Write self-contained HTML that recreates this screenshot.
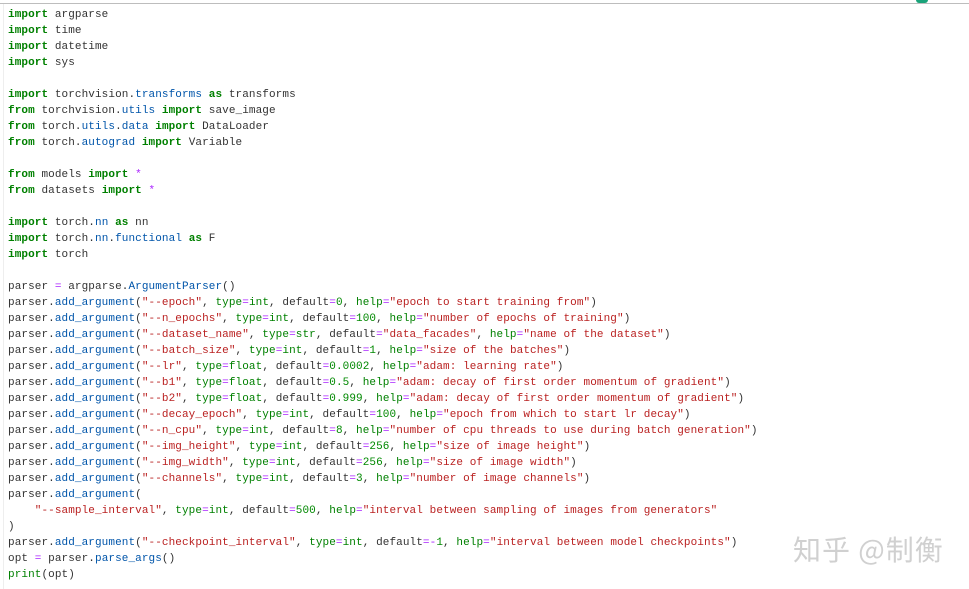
<!DOCTYPE html>
<html><head><meta charset="utf-8"><style>
body{margin:0;width:969px;height:589px;background:#fff;overflow:hidden;position:relative}
.top{position:absolute;left:0;top:3px;width:969px;height:1px;background:#bdbdbd}
.lft{position:absolute;left:3px;top:4px;width:1px;height:585px;background:#eee}
pre{position:absolute;left:8px;top:7px;margin:0;font-family:"Liberation Mono",monospace;font-size:11px;line-height:16px;color:#333;letter-spacing:0.09px}
.k{color:#008000;font-weight:bold}.b{color:#008000}.a{color:#0055aa}.s{color:#ba2121}.n{color:#008800}.o{color:#aa22ff}
.wm{position:absolute;left:793px;top:529px;font-family:"Noto Sans CJK SC",sans-serif;font-size:28px;color:#d0d0d0;letter-spacing:1px}
.g{position:absolute;left:916px;top:0;width:12px;height:3px;background:#1aa37a;border-radius:0 0 6px 6px}
</style></head><body>
<div class="top"></div><div class="lft"></div><div class="g"></div>
<pre><span class="k">import</span> argparse
<span class="k">import</span> time
<span class="k">import</span> datetime
<span class="k">import</span> sys

<span class="k">import</span> torchvision.<span class="a">transforms</span> <span class="k">as</span> transforms
<span class="k">from</span> torchvision.<span class="a">utils</span> <span class="k">import</span> save_image
<span class="k">from</span> torch.<span class="a">utils</span>.<span class="a">data</span> <span class="k">import</span> DataLoader
<span class="k">from</span> torch.<span class="a">autograd</span> <span class="k">import</span> Variable

<span class="k">from</span> models <span class="k">import</span> <span class="o">*</span>
<span class="k">from</span> datasets <span class="k">import</span> <span class="o">*</span>

<span class="k">import</span> torch.<span class="a">nn</span> <span class="k">as</span> nn
<span class="k">import</span> torch.<span class="a">nn</span>.<span class="a">functional</span> <span class="k">as</span> F
<span class="k">import</span> torch

parser <span class="o">=</span> argparse.<span class="a">ArgumentParser</span>()
parser.<span class="a">add_argument</span>(<span class="s">"--epoch"</span>, <span class="b">type</span><span class="o">=</span><span class="b">int</span>, default<span class="o">=</span><span class="n">0</span>, <span class="b">help</span><span class="o">=</span><span class="s">"epoch to start training from"</span>)
parser.<span class="a">add_argument</span>(<span class="s">"--n_epochs"</span>, <span class="b">type</span><span class="o">=</span><span class="b">int</span>, default<span class="o">=</span><span class="n">100</span>, <span class="b">help</span><span class="o">=</span><span class="s">"number of epochs of training"</span>)
parser.<span class="a">add_argument</span>(<span class="s">"--dataset_name"</span>, <span class="b">type</span><span class="o">=</span><span class="b">str</span>, default<span class="o">=</span><span class="s">"data_facades"</span>, <span class="b">help</span><span class="o">=</span><span class="s">"name of the dataset"</span>)
parser.<span class="a">add_argument</span>(<span class="s">"--batch_size"</span>, <span class="b">type</span><span class="o">=</span><span class="b">int</span>, default<span class="o">=</span><span class="n">1</span>, <span class="b">help</span><span class="o">=</span><span class="s">"size of the batches"</span>)
parser.<span class="a">add_argument</span>(<span class="s">"--lr"</span>, <span class="b">type</span><span class="o">=</span><span class="b">float</span>, default<span class="o">=</span><span class="n">0.0002</span>, <span class="b">help</span><span class="o">=</span><span class="s">"adam: learning rate"</span>)
parser.<span class="a">add_argument</span>(<span class="s">"--b1"</span>, <span class="b">type</span><span class="o">=</span><span class="b">float</span>, default<span class="o">=</span><span class="n">0.5</span>, <span class="b">help</span><span class="o">=</span><span class="s">"adam: decay of first order momentum of gradient"</span>)
parser.<span class="a">add_argument</span>(<span class="s">"--b2"</span>, <span class="b">type</span><span class="o">=</span><span class="b">float</span>, default<span class="o">=</span><span class="n">0.999</span>, <span class="b">help</span><span class="o">=</span><span class="s">"adam: decay of first order momentum of gradient"</span>)
parser.<span class="a">add_argument</span>(<span class="s">"--decay_epoch"</span>, <span class="b">type</span><span class="o">=</span><span class="b">int</span>, default<span class="o">=</span><span class="n">100</span>, <span class="b">help</span><span class="o">=</span><span class="s">"epoch from which to start lr decay"</span>)
parser.<span class="a">add_argument</span>(<span class="s">"--n_cpu"</span>, <span class="b">type</span><span class="o">=</span><span class="b">int</span>, default<span class="o">=</span><span class="n">8</span>, <span class="b">help</span><span class="o">=</span><span class="s">"number of cpu threads to use during batch generation"</span>)
parser.<span class="a">add_argument</span>(<span class="s">"--img_height"</span>, <span class="b">type</span><span class="o">=</span><span class="b">int</span>, default<span class="o">=</span><span class="n">256</span>, <span class="b">help</span><span class="o">=</span><span class="s">"size of image height"</span>)
parser.<span class="a">add_argument</span>(<span class="s">"--img_width"</span>, <span class="b">type</span><span class="o">=</span><span class="b">int</span>, default<span class="o">=</span><span class="n">256</span>, <span class="b">help</span><span class="o">=</span><span class="s">"size of image width"</span>)
parser.<span class="a">add_argument</span>(<span class="s">"--channels"</span>, <span class="b">type</span><span class="o">=</span><span class="b">int</span>, default<span class="o">=</span><span class="n">3</span>, <span class="b">help</span><span class="o">=</span><span class="s">"number of image channels"</span>)
parser.<span class="a">add_argument</span>(
    <span class="s">"--sample_interval"</span>, <span class="b">type</span><span class="o">=</span><span class="b">int</span>, default<span class="o">=</span><span class="n">500</span>, <span class="b">help</span><span class="o">=</span><span class="s">"interval between sampling of images from generators"</span>
)
parser.<span class="a">add_argument</span>(<span class="s">"--checkpoint_interval"</span>, <span class="b">type</span><span class="o">=</span><span class="b">int</span>, default<span class="o">=-</span><span class="n">1</span>, <span class="b">help</span><span class="o">=</span><span class="s">"interval between model checkpoints"</span>)
opt <span class="o">=</span> parser.<span class="a">parse_args</span>()
<span class="b">print</span>(opt)</pre>
<div class="wm">知乎 @制衡</div>
</body></html>
